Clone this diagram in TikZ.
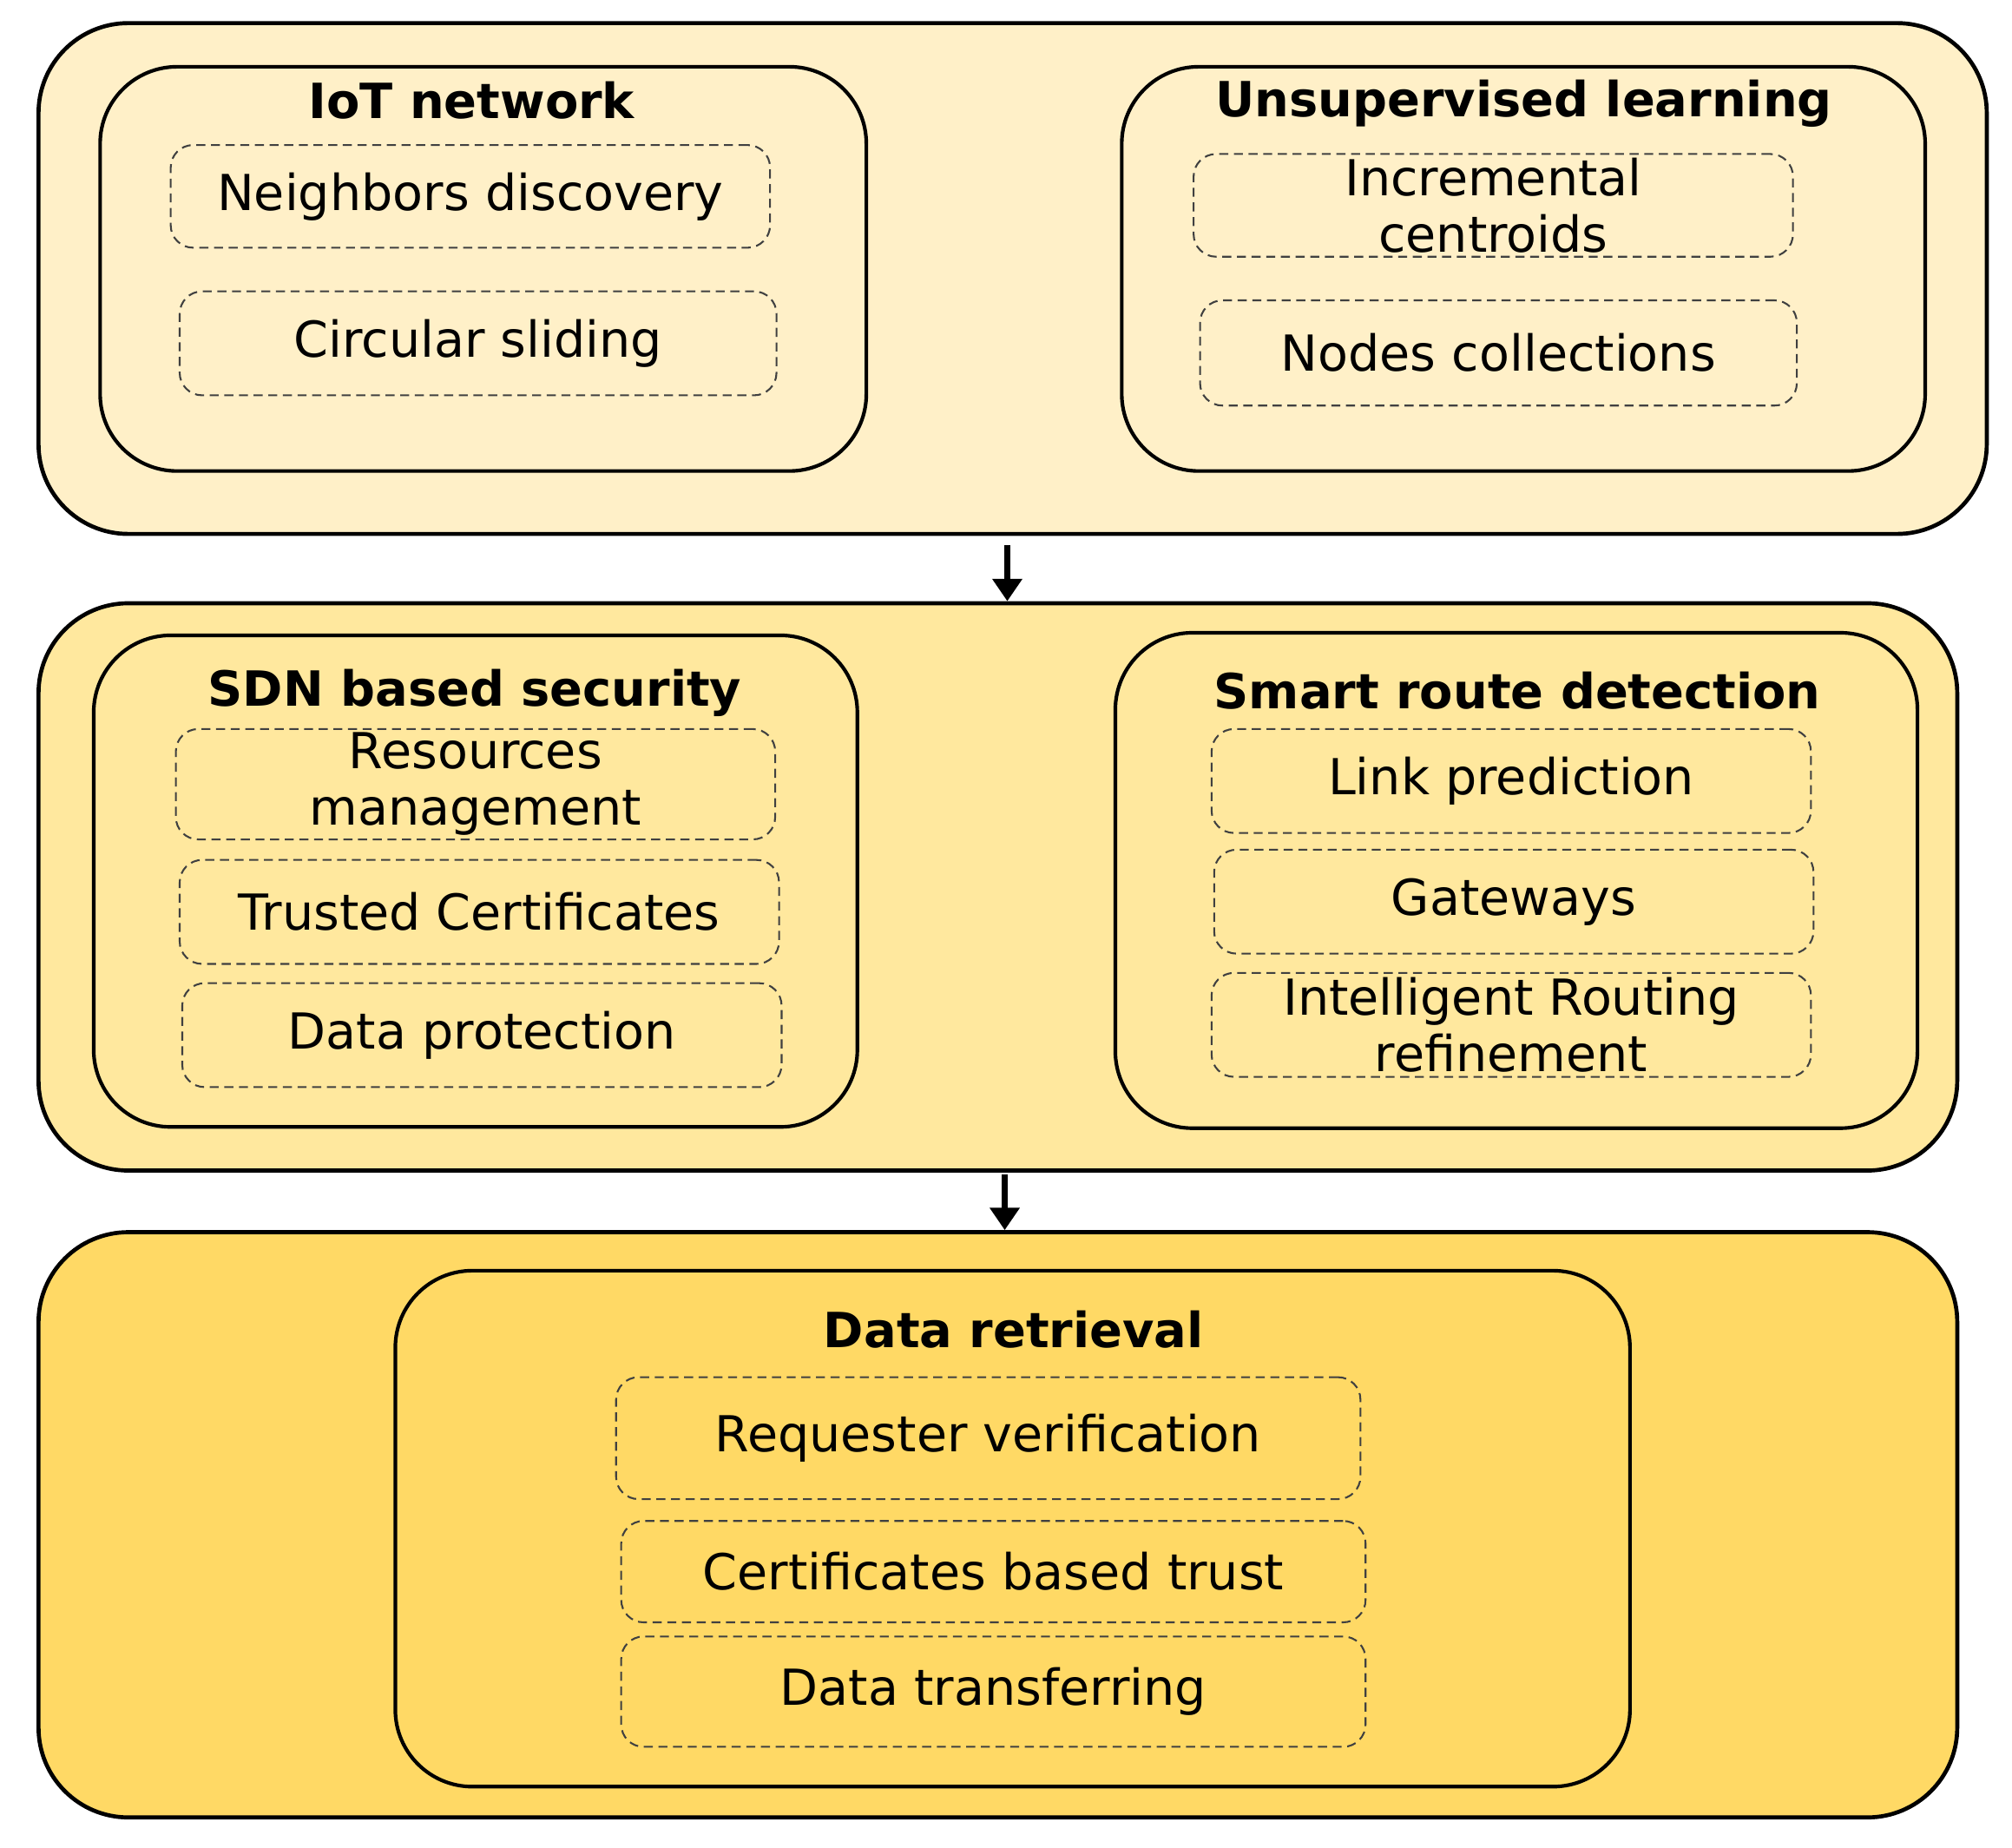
\documentclass[tikz,border=0pt]{standalone}
\usepackage{fontspec}
\setmainfont{DejaVu Sans}
\usetikzlibrary{arrows.meta}
\definecolor{f1}{HTML}{FFF0C8}
\definecolor{f2}{HTML}{FFE89E}
\definecolor{f3}{HTML}{FFD965}
\newcommand{\bx}[7]{\node[#6,minimum width={(#4-#2)*0.02cm},minimum height={(#5-#3)*0.02cm}] (#1) at ({(#2+#4)/2*0.02},{-(#3+#5)/2*0.02}) {#7};}
\tikzset{
 outerbox/.style={draw,line width=1.8pt,rounded corners=1.4cm,inner sep=0},
 groupbox/.style={draw,line width=1.6pt,rounded corners=1.2cm,inner sep=0},
 itembox/.style={draw=black!75,dash pattern=on 4pt off 2.5pt,line width=0.8pt,rounded corners=0.35cm,align=center,font=\fontsize{22}{25}\selectfont,inner sep=0},
 ttl/.style={font=\fontsize{21.5}{25}\selectfont\bfseries},
 arr/.style={line width=2.5pt,-{Triangle[length=0.35cm,width=0.45cm]}}
}
\begin{document}
\begin{tikzpicture}
\useasboundingbox[fill=white] (0,0) rectangle (31.36,-28.8);
\bx{o1}{30}{18}{1548}{416}{outerbox,fill=f1}{}
\bx{o2}{30}{470}{1525}{912}{outerbox,fill=f2}{}
\bx{o3}{30}{960}{1525}{1416}{outerbox,fill=f3}{}
\bx{g1}{78}{52}{675}{367}{groupbox}{}
\bx{g2}{874}{52}{1500}{367}{groupbox}{}
\bx{g3}{73}{495}{668}{878}{groupbox}{}
\bx{g4}{869}{493}{1494}{879}{groupbox}{}
\bx{g5}{308}{990}{1270}{1392}{groupbox}{}
\node[ttl] (t1) at (7.35,-1.56) {IoT network};
\node[ttl] (t2) at (23.75,-1.62) {Unsupervised learning};
\node[ttl] (t3) at (7.4,-10.8) {SDN based security};
\node[ttl] (t4) at (23.65,-10.76) {Smart route detection};
\node[ttl] (t5) at (15.8,-20.72) {Data retrieval};
\bx{a1}{133}{113}{600}{193}{itembox}{Neighbors discovery}
\bx{a2}{140}{227}{605}{308}{itembox}{Circular sliding}
\bx{b1}{930}{120}{1397}{200}{itembox}{Incremental\\centroids}
\bx{b2}{935}{234}{1400}{316}{itembox}{Nodes collections}
\bx{c1}{137}{568}{604}{654}{itembox}{Resources\\management}
\bx{c2}{140}{670}{607}{751}{itembox}{Trusted Certificates}
\bx{c3}{142}{766}{609}{847}{itembox}{Data protection}
\bx{d1}{944}{568}{1411}{649}{itembox}{Link prediction}
\bx{d2}{946}{662}{1413}{743}{itembox}{Gateways}
\bx{d3}{944}{758}{1411}{839}{itembox}{Intelligent Routing\\refinement}
\bx{e1}{480}{1073}{1060}{1168}{itembox}{Requester verification}
\bx{e2}{484}{1185}{1064}{1264}{itembox}{Certificates based trust}
\bx{e3}{484}{1275}{1064}{1361}{itembox}{Data transferring}
\coordinate (p1) at (15.7,-8.5);
\coordinate (p2) at (15.66,-18.3);
\draw[arr] (p1) -- (p1 |- o2.north);
\draw[arr] (p2) -- (p2 |- o3.north);
\end{tikzpicture}
\end{document}
